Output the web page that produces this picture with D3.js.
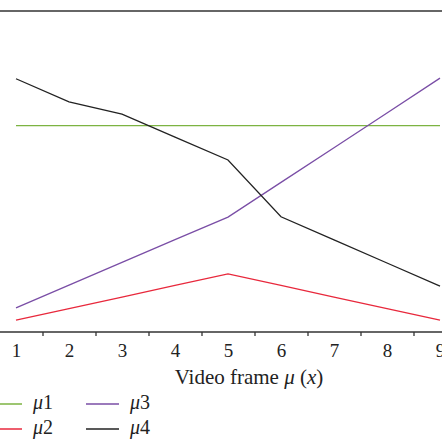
<!DOCTYPE html>
<html>
<head>
<meta charset="utf-8">
<script src="https://cdn.jsdelivr.net/npm/d3@7"></script>
<style>
  body { margin: 0; background: #fff; }
  svg { display: block; }
</style>
</head>
<body>
<script>
// frames 1..9, membership values
const frames = [1, 2, 3, 4, 5, 6, 7, 8, 9];
const mu1 = [0.643, 0.643, 0.643, 0.643, 0.643, 0.643, 0.643, 0.643, 0.643];
const mu2 = [0.037, 0.073, 0.109, 0.145, 0.181, 0.145, 0.109, 0.073, 0.037];
const mu3 = [0.075, 0.146, 0.217, 0.288, 0.358, 0.466, 0.574, 0.682, 0.791];
const mu4 = [0.789, 0.717, 0.679, 0.607, 0.536, 0.359, 0.287, 0.215, 0.143];
const seriesNames = ["1", "2", "3", "4"];
const seriesColors = ["#7cb342", "#e8283c", "#7a4ea6", "#222222"];
const minorTicks = [1.5, 2.5, 3.5, 4.5, 5.5, 6.5, 7.5, 8.5];

const series = [mu1, mu2, mu3, mu4].map((vals, i) => ({
  name: seriesNames[i],
  color: seriesColors[i],
  values: vals.map((v, j) => ({ x: frames[j], y: v }))
}));

const W = 442, H = 442;
const font = "'Liberation Serif', 'DejaVu Serif', serif";

const svg = d3.select("body").append("svg")
  .attr("width", W)
  .attr("height", H);

const x = d3.scaleLinear().domain([1, 9]).range([16, 440]);
const y = d3.scaleLinear().domain([0, 1]).range([332, 11]);

// top frame line
svg.append("line")
  .attr("x1", 0).attr("x2", W)
  .attr("y1", y(1)).attr("y2", y(1))
  .attr("stroke", "#333")
  .attr("stroke-width", 1.6);

// x axis: line + minor ticks
const axisG = svg.append("g")
  .attr("transform", `translate(0,${y(0)})`);

axisG.append("line")
  .attr("x1", 0).attr("x2", W)
  .attr("stroke", "#333")
  .attr("stroke-width", 1.6);

axisG.append("g")
  .call(d3.axisBottom(x).tickValues(minorTicks).tickSize(4).tickFormat(""))
  .call(g => g.select(".domain").remove())
  .call(g => g.selectAll(".tick line").attr("stroke", "#333").attr("stroke-width", 1.3));

// tick labels at integer frames (the 9 is cut by the edge, as in the source)
axisG.append("g")
  .call(d3.axisBottom(x).tickValues(frames).tickSize(0).tickFormat(d3.format("d")))
  .call(g => g.select(".domain").remove())
  .call(g => g.selectAll(".tick text")
    .attr("y", 25).attr("dy", 0)
    .attr("fill", "#222")
    .attr("font-family", font)
    .attr("font-size", 19));

// axis title
const title = svg.append("text")
  .attr("x", 249)
  .attr("y", 384)
  .attr("text-anchor", "middle")
  .attr("font-family", font)
  .attr("font-size", 21)
  .attr("fill", "#222");
title.append("tspan").text("Video frame ");
title.append("tspan").attr("font-style", "italic").text("μ");
title.append("tspan").text(" (");
title.append("tspan").attr("font-style", "italic").text("x");
title.append("tspan").text(")");

// lines
const line = d3.line().x(d => x(d.x)).y(d => y(d.y));

svg.append("g")
  .selectAll("path")
  .data(series)
  .join("path")
  .attr("d", d => line(d.values))
  .attr("fill", "none")
  .attr("stroke", d => d.color)
  .attr("stroke-width", 1.3);

// legend, two columns
const legend = svg.append("g")
  .selectAll("g")
  .data(series)
  .join("g")
  .attr("transform", (d, i) => `translate(${Math.floor(i / 2) * 97 - 11},${404 + (i % 2) * 25})`);

legend.append("line")
  .attr("x1", 0).attr("x2", 33)
  .attr("stroke", d => d.color)
  .attr("stroke-width", 1.3);

const lt = legend.append("text")
  .attr("x", 44)
  .attr("y", 5)
  .attr("font-family", font)
  .attr("font-size", 20)
  .attr("fill", "#222");
lt.append("tspan").attr("font-style", "italic").text("μ");
lt.append("tspan").text(d => d.name);
</script>
</body>
</html>
